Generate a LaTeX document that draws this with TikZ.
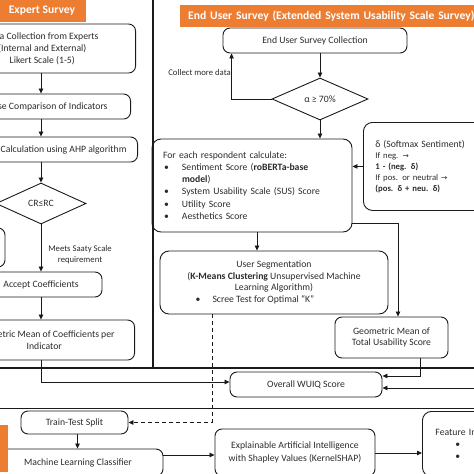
\documentclass[tikz,border=0pt]{standalone}
\usepackage{fontspec}
\setmainfont{Carlito}
\newfontfamily\dvs{DejaVu Sans}
\usetikzlibrary{arrows.meta,shapes.geometric}
\definecolor{orng}{HTML}{ED7D31}
\definecolor{txt}{HTML}{2B2B2B}
\definecolor{ln}{HTML}{1A1A1A}
\newcommand\mybul{\makebox[19pt][l]{\hspace{1pt}•}}
\begin{document}
\begin{tikzpicture}[x=1pt,y=-1pt,font=\fontsize{9.7}{12}\selectfont,text=txt,
  box/.style={draw=ln,line width=0.9pt,rounded corners=7pt,align=center,inner sep=0pt},
  dia/.style={draw=ln,line width=0.9pt,diamond,inner sep=0pt},
  hdr/.style={fill=orng,text=white,font=\fontsize{11.6}{13}\selectfont\bfseries,inner sep=0pt},
  small/.style={font=\fontsize{8.7}{11}\selectfont,align=center,inner sep=0pt},
  arr/.style={draw=ln,line width=0.8pt,-{Triangle[length=5pt,width=4.5pt]}},
  panel/.style={draw=ln,line width=1.8pt}]
\useasboundingbox (0,0) rectangle (474,474);
\clip (0,0) rectangle (474,474);
\coordinate (ex) at (41,0);
% panel lines
\draw[panel] (153,-5) -- (153,368);
\draw[panel] (-5,368) -- (480,368);
\draw[panel] (-5,408.5) -- (480,408.5);
% ---------------- Expert survey
\node[hdr,minimum width=88pt,minimum height=23pt] (exh) at (42,10.5) {Expert Survey};
\node[box,anchor=east,inner xsep=37pt,minimum height=49pt] (d1) at (136,48.5) {Data Collection from Experts\\(Internal and External)\\Likert Scale (1-5)};
\node[box,anchor=east,inner xsep=23pt,minimum height=25pt] (d2) at (131,106.5) {Pairwise Comparison of Indicators};
\node[box,anchor=east,inner xsep=11pt,minimum height=25pt] (d3) at (138,149.5) {Weight Calculation using AHP algorithm};
\node[dia,minimum width=90pt,minimum height=41pt] (cr) at (41,203.5) {CR≤RC};
\node[box,minimum width=70pt,minimum height=39pt] (rej) at (-30,247.5) {};
\node[box,minimum width=122pt,minimum height=25pt] (acc) at (41,284.5) {Accept Coefficients};
\node[box,anchor=east,inner xsep=20pt,minimum height=40pt,font=\fontsize{9.7}{11.5}\selectfont] (gm1) at (135,340) {Geometric Mean of Coefficients per\\Indicator};
\node[small] (saaty) at (80,255) {Meets Saaty Scale\\requirement};
\draw[arr] (d1.south -| ex) -- (d2.north -| ex);
\draw[arr] (d2.south -| ex) -- (d3.north -| ex);
\draw[arr] (d3.south -| ex) -- (cr.north);
\draw[arr] (cr.south) -- (acc.north);
\draw[arr] (acc.south) -- (gm1.north -| ex);
% ---------------- End user survey
\node[hdr,anchor=west,text width=300pt,align=left,inner xsep=8pt,minimum height=22pt] (euh) at (180,16) {End User Survey (Extended System Usability Scale Survey)};
\node[box,minimum width=184pt,minimum height=25pt] (euc) at (315,40.5) {End User Survey Collection};
\node[dia,minimum width=96pt,minimum height=42pt] (al) at (320,99) {α ≥ 70\%};
\node[small,anchor=east] (cmd) at (231,73) {Collect more data};
\node[box,rounded corners=9pt,minimum width=200pt,minimum height=93pt,text width=178pt,align=left,font=\fontsize{9.7}{12.3}\selectfont] (each) at (252,185.5) {For each respondent calculate:\\
\mybul Sentiment Score (\textbf{roBERTa-base}\\
\hspace*{19pt}\textbf{model})\\
\mybul System Usability Scale (SUS) Score\\
\mybul Utility Score\\
\mybul Aesthetics Score};
\node[box,rounded corners=9pt,anchor=north west,minimum height=88pt,text width=133pt,inner xsep=12pt,align=left,font=\fontsize{8.7}{11}\selectfont] (dl) at (363,122) {{\fontsize{9.7}{11}\selectfont δ (Softmax Sentiment)}\\
If neg. {\dvs\fontsize{7.5}{11}\selectfont →}\\
\textbf{1 - (neg. δ)}\\
If pos. or neutral {\dvs\fontsize{7.5}{11}\selectfont →}\\
\textbf{(pos. δ + neu. δ)}};
\node[box,rounded corners=9pt,minimum width=228pt,minimum height=63pt,font=\fontsize{9.7}{11.7}\selectfont] (useg) at (274,282.5) {User Segmentation\\(\textbf{K-Means Clustering} Unsupervised Machine\\Learning Algorithm)\\\hspace*{-38pt}•\hspace{12pt}Scree Test for Optimal “K”};
\node[box,minimum width=113pt,minimum height=41pt,font=\fontsize{9.7}{11.5}\selectfont] (gm2) at (391.5,337.5) {Geometric Mean of\\Total Usability Score};
\node[box,minimum width=152pt,minimum height=25pt] (wuiq) at (306,384.5) {Overall WUIQ Score};
\draw[arr] (euc.south -| al) -- (al.north);
\draw[arr] (al.west) -| ([xshift=9pt]euc.south west);
\draw[arr] (al.south) -- (each.north -| al);
\draw[arr] (dl.west) -- (dl.west -| each.east);
\coordinate (ea) at ([xshift=5pt]each.south);
\draw[arr] (ea) -- (ea |- useg.north);
\coordinate (y223) at (0,223);
\draw[arr] (each.east |- y223) -| ([xshift=6.5pt]gm2.north);
\draw[arr] ([xshift=28.5pt]gm2.south) |- ([yshift=8.5pt]wuiq.east);
\coordinate (rin) at (480,388);
\draw[arr] (rin) -- (rin -| wuiq.east);
\draw[arr] (gm1.south -| ex) |- ([yshift=2.5pt]wuiq.west);
% ---------------- Bottom panel
\node[box,minimum width=107pt,minimum height=23pt] (tts) at (74.5,422.5) {Train-Test Split};
\node[box,minimum width=170pt,minimum height=27pt] (mlc) at (78,462.5) {Machine Learning Classifier};
\fill[orng] (-5,425) rectangle (8,472);
\node[box,minimum width=160pt,minimum height=47pt,font=\fontsize{9.7}{12.5}\selectfont] (xai) at (295,452.5) {Explainable Artificial Intelligence\\with Shapley Values (KernelSHAP)};
\node[box,rounded corners=9pt,anchor=north west,minimum width=126pt,minimum height=65pt,text width=100pt,inner xsep=13pt,align=left,font=\fontsize{9.7}{12}\selectfont] (fi) at (422,411) {Feature Importance\\\hspace*{20pt}•\\\hspace*{20pt}•};
\coordinate (tx) at ([xshift=3pt]tts.south);
\draw[arr] (tx) -- (tx |- mlc.north);
\coordinate (y455) at (0,455);
\draw[arr] (mlc.east |- y455) -- (xai.west |- y455);
\coordinate (y453) at (0,453);
\draw[arr] (xai.east |- y453) -- (fi.west |- y453);
\coordinate (dx) at (212,0);
\draw[arr,dashed,dash pattern=on 4pt off 3pt] (useg.south -| dx) |- (tts.east);
\end{tikzpicture}
\end{document}
